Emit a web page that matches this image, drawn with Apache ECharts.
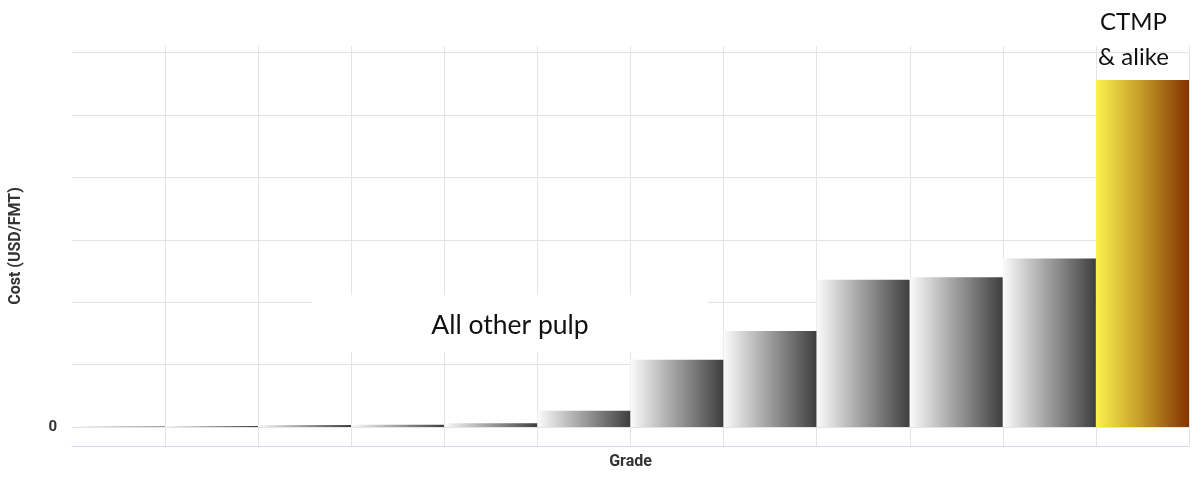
<!DOCTYPE html>
<html>
<head>
<meta charset="utf-8">
<script src="https://cdn.jsdelivr.net/npm/echarts@6/dist/echarts.min.js"></script>
<style>
html,body{margin:0;padding:0;background:#fff;}
#chart{width:1200px;height:494px;}
</style>
</head>
<body>
<div id="chart"></div>
<script>
// Data
const categories = ['G1','G2','G3','G4','G5','G6','G7','G8','G9','G10','G11','G12'];
const costs = [0.4, 0.8, 1.6, 1.8, 3.0, 13, 54, 77, 118, 120, 135, 278];
const gridValues = [0, 50, 100, 150, 200, 250, 300];
const yLabelValues = [0];
const highlightIndex = 11;
const highlightLabel = 'CTMP\n& alike';
const otherLabel = 'All other pulp';

const grayGrad = new echarts.graphic.LinearGradient(0, 0, 1, 0, [
  {offset: 0, color: '#fbfbfb'},
  {offset: 1, color: '#3e3e3e'}
]);
const goldGrad = new echarts.graphic.LinearGradient(0, 0, 1, 0, [
  {offset: 0, color: '#fbf24e'},
  {offset: 0.45, color: '#c9a22c'},
  {offset: 1, color: '#833300'}
]);

const barData = costs.map((v, i) => {
  if (i === highlightIndex) {
    return {
      value: v,
      itemStyle: {color: goldGrad},
      label: {
        show: true,
        position: 'top',
        distance: 5,
        offset: [-9, 0],
        formatter: highlightLabel,
        fontFamily: 'Lato',
        fontSize: 24,
        lineHeight: 35,
        color: '#111',
        align: 'center'
      }
    };
  }
  return {value: v};
});

// first boundary line (left edge) is not drawn in the reference
const splitColors = ['rgba(0,0,0,0)'].concat(categories.map(() => '#e4e4e4'));

const chart = echarts.init(document.getElementById('chart'), null, {renderer: 'canvas'});
chart.setOption({
  animation: false,
  backgroundColor: '#ffffff',
  grid: {left: 72, right: 11, top: 46, bottom: 48, containLabel: false},
  xAxis: {
    type: 'category',
    data: categories,
    boundaryGap: true,
    axisTick: {show: false},
    axisLabel: {show: false},
    axisLine: {show: true, onZero: false, lineStyle: {color: '#d6d6e6', width: 1}},
    splitLine: {show: true, lineStyle: {color: splitColors, width: 1}},
    name: 'Grade',
    nameLocation: 'middle',
    nameGap: 8,
    nameTextStyle: {fontFamily: 'Roboto', fontWeight: 'bold', fontSize: 16, color: '#333', verticalAlign: 'top'}
  },
  yAxis: {
    type: 'value',
    min: -15.2,
    max: 305.3,
    axisLine: {show: false},
    axisTick: {show: false},
    splitLine: {show: false},
    axisLabel: {
      customValues: yLabelValues,
      fontFamily: 'Roboto',
      fontWeight: 'bold',
      fontSize: 15,
      color: '#333',
      margin: 15
    },
    name: 'Cost (USD/FMT)',
    nameLocation: 'middle',
    nameGap: 48,
    nameRotate: 90,
    nameTextStyle: {fontFamily: 'Roboto', fontWeight: 'bold', fontSize: 16, color: '#333'}
  },
  series: [{
    type: 'bar',
    data: barData,
    barCategoryGap: '0%',
    z: 2,
    itemStyle: {color: grayGrad},
    markLine: {
      silent: true,
      z: 1,
      symbol: 'none',
      animation: false,
      label: {show: false},
      lineStyle: {color: '#e4e4e4', width: 1, type: 'solid'},
      emphasis: {disabled: true},
      data: gridValues.map(v => ({yAxis: v}))
    }
  }],
  graphic: [{
    type: 'group',
    z: 10,
    children: [{
      type: 'rect',
      shape: {x: 312, y: 295, width: 396, height: 57},
      style: {fill: '#ffffff'},
      z: 10
    }, {
      type: 'text',
      x: 510,
      y: 325,
      z: 11,
      style: {
        text: otherLabel,
        fontFamily: 'Lato',
        fontSize: 26.5,
        fill: '#111',
        align: 'center',
        verticalAlign: 'middle'
      }
    }]
  }]
});
</script>
</body>
</html>
